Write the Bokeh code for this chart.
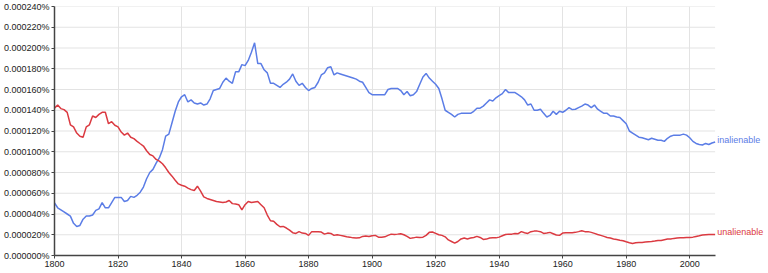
import numpy as np
from bokeh.plotting import figure
from bokeh.models import Label, PrintfTickFormatter, FixedTicker, Range1d
from bokeh.embed import file_html
from bokeh.resources import INLINE

years = list(range(1800, 2009))

# values in millionths of a percent (0.000001%)
inalienable_u = [
    50.6, 46, 44, 42, 40, 38, 31, 28, 29, 35,
    38, 38, 39, 43.5, 45, 51, 46, 46, 51, 56,
    56, 56, 52, 53, 57, 56, 58, 61, 66, 74,
    80, 83, 89, 94, 102, 115, 117, 128, 139, 148,
    153, 155, 148, 150, 147, 146, 147, 145, 146, 151,
    159, 160, 161, 167, 171, 168, 166, 177, 177, 184,
    183, 188, 196, 205, 185, 185, 179, 176, 166, 166,
    164, 162, 165, 167, 170, 175, 168, 164, 166, 162,
    159, 161, 162, 167, 174, 176, 181, 182, 174, 176,
    175, 174, 173, 172, 171, 170, 168, 167, 162, 157,
    155, 155, 155, 155, 155, 160, 161, 161, 161, 159,
    155, 158, 154, 155, 158, 165, 172, 175.5, 171, 168,
    165, 161, 151, 140, 138, 136, 133.5, 136, 137, 137,
    137, 137, 139, 142, 142, 144, 147, 150, 149, 152,
    154, 156, 160, 157, 157, 157, 155, 153, 150, 145,
    146, 140, 140, 141, 137, 133.5, 135, 139, 136, 139,
    138, 140, 142.5, 140.6, 141, 142.5, 144, 146, 145, 142.5,
    145, 141, 139, 137, 137, 134.5, 134.5, 133.5, 133, 130,
    127, 120, 118, 116, 114, 113.5, 112.6, 111.6, 113, 112,
    111, 111, 110, 113, 115, 116, 116, 116, 117, 116,
    113.5, 110, 108, 107, 106.5, 108, 107, 108.4, 109.4,
]

unalienable_u = [
    142, 145, 141.6, 140.6, 138, 126, 124, 118, 115, 114,
    124, 126, 134.5, 133, 136, 138, 138, 127, 129, 125.5,
    124, 119, 116, 118, 114, 112.6, 110, 107.7, 105.5, 101,
    97.4, 96, 92.6, 91, 88.4, 84.5, 80, 76.5, 72.6, 69,
    67.7, 66.8, 65, 63.5, 62.6, 66.8, 62, 56.5, 55, 54,
    53, 52, 51.6, 51, 51.6, 53, 50, 49.7, 49, 44,
    49, 52, 51, 51.6, 52, 49, 46, 39, 33.5, 33,
    30, 27.7, 28, 26.5, 24.5, 22, 21.3, 23, 21.6, 21.3,
    19.4, 23, 23, 23, 22.6, 20.6, 21.6, 21.3, 19.4, 20,
    19.4, 18.7, 18, 17.7, 17, 16.8, 17, 18.4, 18.7, 18.4,
    19, 19.4, 17.7, 17.7, 18, 19.4, 20.6, 20.3, 20.6, 21,
    20, 18.4, 16.5, 17, 17.7, 17.4, 17.7, 19.4, 22.3, 22.6,
    21.3, 20, 19.4, 18, 15, 13.5, 12, 13.5, 16, 16.8,
    16, 16.8, 17.4, 18.4, 17.4, 15.5, 15.8, 16.8, 17, 17,
    17.7, 19, 20.3, 20.6, 20.6, 21.3, 21, 23, 22, 21.3,
    23, 23.5, 23.5, 23, 21.3, 21.6, 22.3, 21, 19.7, 19.4,
    21.6, 22, 22, 22, 22.3, 23, 23.9, 23, 23, 22.3,
    21.3, 20.3, 19.4, 18.4, 17.4, 16.8, 16, 15.5, 14.8, 14.2,
    13.2, 12.3, 11.6, 12.3, 12.6, 12.6, 12.9, 13.2, 13.5, 13.9,
    14.5, 14.5, 15.2, 15.8, 16, 16.5, 16.8, 17, 17, 17.4,
    17.4, 17.7, 18.4, 19, 19.7, 20, 20.3, 20.3, 20.3,
]

series_names = ["inalienable", "unalienable"]
series_colors = ["#5b7de6", "#db3a41"]

x_ticks = [1800, 1820, 1840, 1860, 1880, 1900, 1920, 1940, 1960, 1980, 2000]
y_ticks = [0, 0.00002, 0.00004, 0.00006, 0.00008, 0.0001, 0.00012, 0.00014,
           0.00016, 0.00018, 0.0002, 0.00022, 0.00024]

inalienable = np.array(inalienable_u) * 1e-6
unalienable = np.array(unalienable_u) * 1e-6

FONT = "Liberation Sans"
x_start, x_end = years[0], years[-1]

p = figure(width=768, height=273, output_backend="svg", toolbar_location=None,
           min_border_left=53, min_border_right=0, min_border_top=6, min_border_bottom=18,
           x_range=Range1d(x_start, 2024.8), y_range=Range1d(0, 0.00024))
p.outline_line_color = None
p.background_fill_color = "white"
p.border_fill_color = "white"

# horizontal grid lines only across the data span
p.segment(x0=[x_start] * len(y_ticks), x1=[x_end] * len(y_ticks), y0=y_ticks, y1=y_ticks,
          line_color="#e3e3e3", line_width=1)
p.ygrid.grid_line_color = None

for ys, name, color in zip([inalienable, unalienable], series_names, series_colors):
    p.line(years, ys, line_color=color, line_width=1.5)
    p.add_layout(Label(x=years[-1], y=ys[-1], text=name, x_offset=2, y_offset=2,
                       text_baseline="middle", text_align="left",
                       text_color=color, text_font=FONT, text_font_size="9px"))

p.xaxis.ticker = FixedTicker(ticks=x_ticks)
p.yaxis.ticker = FixedTicker(ticks=y_ticks)
p.yaxis.formatter = PrintfTickFormatter(format="%.6f%%")
p.xaxis.bounds = (x_start, x_end)

for ax in (p.xaxis[0], p.yaxis[0]):
    ax.axis_line_color = "#444444"
    ax.axis_line_width = 1.5
    ax.major_tick_line_color = "#444444"
    ax.major_tick_out = 3
    ax.major_tick_in = 0
    ax.minor_tick_line_color = None
    ax.major_label_text_font = FONT
    ax.major_label_text_font_size = "9px"
    ax.major_label_text_color = "#222222"
    ax.major_label_standoff = 2

p.xgrid.grid_line_color = "#e3e3e3"
p.xgrid.grid_line_width = 1

open("out.html", "w").write(file_html(p, INLINE))
